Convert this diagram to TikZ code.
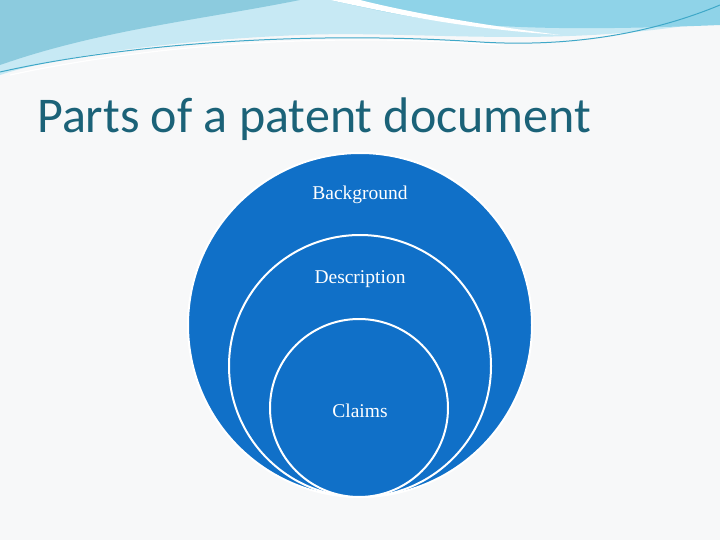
\documentclass[tikz,border=0pt]{standalone}
\usepackage{fontspec}
\setmainfont{Liberation Serif}
\newfontfamily\titlefont{Carlito}
\definecolor{bg}{HTML}{F7F8F9}
\definecolor{circ}{HTML}{1070C8}
\definecolor{ttl}{HTML}{1B6278}
\definecolor{wave1}{HTML}{8FD3E8}
\definecolor{wave2}{HTML}{3FA8C8}
\begin{document}
\begin{tikzpicture}[x=1pt,y=-1pt,
  ring/.style={fill=circ,draw=white,line width=2pt},
  lbl/.style={font=\fontsize{19.5}{22}\selectfont,text=white}]
\fill[bg] (0,0) rectangle (720,540);
\useasboundingbox (0,0) rectangle (720,540);
% top waves
\fill[wave1!50] (0,0) -- (720,0) -- (720,20) .. controls (560,50) and (420,30) .. (300,35) .. controls (180,40) and (60,55) .. (0,75) -- cycle;
\fill[wave1] (0,0) -- (330,0) .. controls (420,20) and (480,35) .. (720,25) -- (720,0) -- cycle;
\fill[wave2!60] (0,0) -- (300,0) .. controls (200,20) and (100,30) .. (0,65) -- cycle;
\fill[white] (330,0) .. controls (400,15) and (460,28) .. (560,35) .. controls (460,22) and (400,10) .. (360,0) -- cycle;
\draw[wave2,line width=1pt] (0,72) .. controls (120,45) and (300,30) .. (480,42) .. controls (580,48) and (660,30) .. (720,5);
\draw[white,line width=1.2pt] (10,75) .. controls (150,45) and (320,32) .. (500,45);
% title
\node[anchor=base west,inner sep=0,text=ttl,font=\titlefont\fontsize{50}{54}\selectfont] (title) at (37,133) {Parts of a patent document};
% circles
\node[ring,circle,minimum size=344pt,inner sep=0] (outer) at (360,325) {};
\node[ring,circle,minimum size=262pt,inner sep=0] (mid) at (360,366) {};
\node[ring,circle,minimum size=178pt,inner sep=0] (inner) at (359,408) {};
\node[lbl] (bgl) at (360,195) {Background};
\node[lbl] (desc) at (360,279) {Description};
\node[lbl] (cl) at (360,411) {Claims};
\end{tikzpicture}
\end{document}
